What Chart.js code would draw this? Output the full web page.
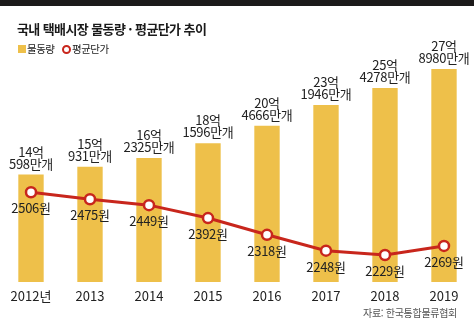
<!DOCTYPE html>
<html lang="ko">
<head>
<meta charset="utf-8">
<script src="https://cdn.jsdelivr.net/npm/chart.js@4"></script>
<style>
  html, body { margin: 0; padding: 0; background: #fff; }
  body { width: 474px; height: 335px; position: relative; overflow: hidden;
         font-family: "Noto Sans CJK KR", "Noto Sans", sans-serif; }
  #topbar { position: absolute; left: 0; top: 0; width: 474px; height: 6px; background: #1c1a1a; }
  #wrap { position: absolute; left: 0; top: 0; width: 474px; height: 335px; }
  #title { position: absolute; left: 17px; top: 19px; font-size: 13px; font-weight: 700;
           color: #1a1a1a; letter-spacing: -0.6px; line-height: 20px; white-space: nowrap; }
  .leg { position: absolute; top: 41px; font-size: 10.5px; color: #222; line-height: 16px;
         letter-spacing: -0.5px; white-space: nowrap; }
  .sw-bar { display: inline-block; width: 8px; height: 8px; background: #eec04a;
            vertical-align: 0px; margin-right: 1px; }
  .sw-dot { display: inline-block; width: 5px; height: 5px; border: 2.5px solid #c8261c;
            border-radius: 50%; background: #fff; vertical-align: -1px; margin-right: 1px; }
  #source { position: absolute; right: 17px; top: 305px; font-size: 10px; color: #555;
            letter-spacing: -0.3px; line-height: 16px; white-space: nowrap; }
</style>
</head>
<body>
<div id="wrap"><canvas id="c" width="474" height="335"></canvas></div>
<div id="topbar"></div>
<div id="title">국내 택배시장 물동량 · 평균단가 추이</div>
<div class="leg" style="left:18px"><span class="sw-bar"></span>물동량</div>
<div class="leg" style="left:62px"><span class="sw-dot"></span>평균단가</div>
<div id="source">자료: 한국통합물류협회</div>
<script>
// 연도별 택배 물동량(만 개)과 평균단가(원)
const years = ['2012년', '2013', '2014', '2015', '2016', '2017', '2018', '2019'];
const volumes = [140598, 150931, 162325, 181596, 204666, 231946, 254278, 278980];
const prices = [2506, 2475, 2449, 2392, 2318, 2248, 2229, 2269];

const BAR_COLOR = '#eec04a';
const LINE_COLOR = '#c8261c';
const NUM_FAMILY = '"Liberation Sans Narrow", "Noto Sans CJK KR", "Noto Sans", sans-serif';
const LABEL_FONT = '13px ' + NUM_FAMILY;

function volumeLines(v) {
  return [Math.floor(v / 10000) + '억', (v % 10000) + '만개'];
}

// 막대 위 물동량, 꺾은선 아래 단가 표시
const valueLabels = {
  id: 'valueLabels',
  afterDatasetsDraw(chart) {
    const ctx = chart.ctx;
    ctx.save();
    ctx.font = LABEL_FONT;
    ctx.fillStyle = '#222';
    ctx.textAlign = 'center';
    ctx.textBaseline = 'middle';
    if ('letterSpacing' in ctx) ctx.letterSpacing = '-0.3px';
    const barMeta = chart.getDatasetMeta(1);
    barMeta.data.forEach((bar, i) => {
      const [a, b] = volumeLines(volumes[i]);
      ctx.fillText(a, bar.x, bar.y - 23);
      ctx.fillText(b, bar.x, bar.y - 11);
    });
    const lineMeta = chart.getDatasetMeta(0);
    lineMeta.data.forEach((pt, i) => {
      ctx.fillText(prices[i] + '원', pt.x, pt.y + 16);
    });
    ctx.restore();
  }
};

new Chart(document.getElementById('c'), {
  data: {
    labels: years,
    datasets: [
      {
        type: 'line',
        label: '평균단가',
        data: prices,
        yAxisID: 'yPrice',
        borderColor: LINE_COLOR,
        borderWidth: 3,
        pointRadius: 5,
        pointBorderWidth: 2.5,
        pointBackgroundColor: '#fff',
        pointBorderColor: LINE_COLOR,
        tension: 0,
        order: 0
      },
      {
        type: 'bar',
        label: '물동량',
        data: volumes,
        yAxisID: 'yVol',
        backgroundColor: BAR_COLOR,
        barPercentage: 1,
        categoryPercentage: 0.43,
        order: 1
      }
    ]
  },
  options: {
    responsive: false,
    animation: false,
    devicePixelRatio: 1,
    layout: { autoPadding: false, padding: { top: 53, left: 1.5, right: 0.5, bottom: 25.5 } },
    plugins: { legend: { display: false }, title: { display: false }, tooltip: { enabled: false } },
    scales: {
      x: {
        grid: { display: false, drawTicks: false },
        border: { display: false },
        afterFit(scale) { scale.paddingLeft = 0; scale.paddingRight = 0; },
        ticks: {
          color: '#222',
          padding: 6,
          font: { family: NUM_FAMILY, size: 13 }
        }
      },
      yVol: { display: false, min: 0, max: 300000 },
      yPrice: { display: false, min: 2110, max: 3121 }
    }
  },
  plugins: [valueLabels]
});
</script>
</body>
</html>
